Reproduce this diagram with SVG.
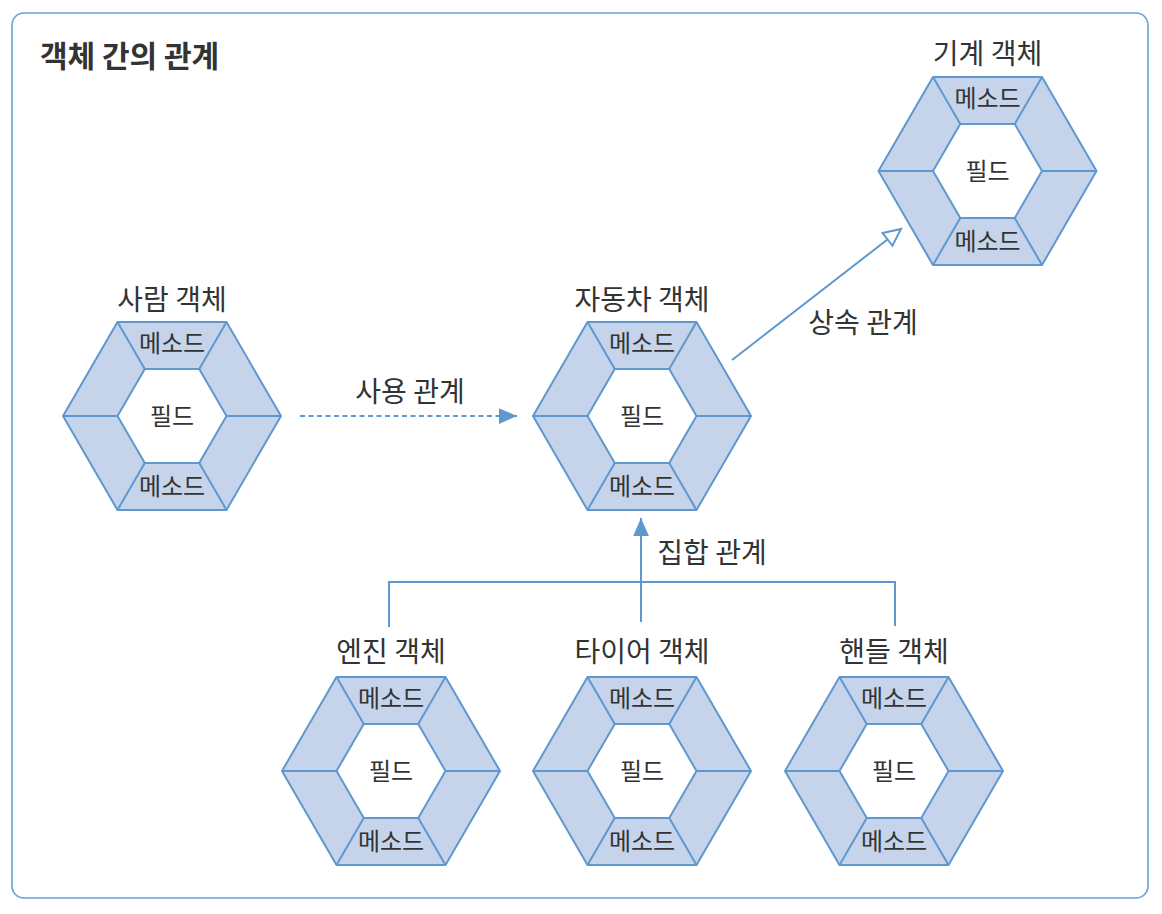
<svg xmlns="http://www.w3.org/2000/svg" xmlns:xlink="http://www.w3.org/1999/xlink" width="1162" height="914" viewBox="0 0 1162 914">
<style>
  .frame { fill: #ffffff; stroke: #6a9fd3; stroke-width: 1.6; }
  .outer { fill: #c5d4ea; stroke: #5e98cf; stroke-width: 2; stroke-linejoin: round; }
  .inner { fill: #ffffff; stroke: #5e98cf; stroke-width: 2; stroke-linejoin: round; }
  .spoke { stroke: #5e98cf; stroke-width: 2; fill: none; }
  .t { font-family: "Noto Sans CJK KR", "Noto Sans", sans-serif; fill: #333333; text-anchor: middle; }
  .lbl { font-size: 28px; }
  .part { font-size: 24px; }
  .title { font-size: 30px; font-weight: bold; text-anchor: start; }
  .conn { stroke: #5e98cf; stroke-width: 2; fill: none; }
</style>
<defs>
  <g id="hex">
    <polygon class="outer" points="-109,0 -54.5,-94 54.5,-94 109,0 54.5,94 -54.5,94"/>
    <polygon class="inner" points="-54.5,0 -27.25,-47 27.25,-47 54.5,0 27.25,47 -27.25,47"/>
    <path class="spoke" d="M-109,0 L-54.5,0 M-54.5,-94 L-27.25,-47 M54.5,-94 L27.25,-47 M109,0 L54.5,0 M54.5,94 L27.25,47 M-54.5,94 L-27.25,47"/>
  </g>
  <marker id="arrowFilled" markerUnits="userSpaceOnUse" markerWidth="18" markerHeight="16" viewBox="0 0 16 14" refX="16" refY="7" orient="auto">
    <path d="M0,0 L16,7 L0,14 Z" fill="#5e98cf"/>
  </marker>
  <marker id="arrowHollow" markerUnits="userSpaceOnUse" markerWidth="22" markerHeight="20" viewBox="-2 -2 22 20" refX="17" refY="8" orient="auto">
    <path d="M0,0 L17,8 L0,16 Z" fill="#ffffff" stroke="#5e98cf" stroke-width="2" stroke-linejoin="miter"/>
  </marker>
</defs>

<rect class="frame" x="12" y="13" width="1136" height="885" rx="12" ry="12"/>
<text class="t title" x="40" y="67">객체 간의 관계</text>

<g id="connectors">
  <line class="conn" x1="300" y1="416" x2="517" y2="416" stroke-dasharray="5 3.5" marker-end="url(#arrowFilled)"/>
  <line class="conn" x1="732" y1="360" x2="901" y2="229" marker-end="url(#arrowHollow)"/>
  <polyline class="conn" points="389,627 389,582 895,582 895,626"/>
  <line class="conn" x1="641" y1="622" x2="641" y2="518" marker-end="url(#arrowFilled)"/>
  <text class="t lbl" x="410" y="402">사용 관계</text>
  <text class="t lbl" x="863" y="333">상속 관계</text>
  <text class="t lbl" x="712" y="563">집합 관계</text>
</g>

<g id="node-person" transform="translate(172,416)">
  <use xlink:href="#hex" href="#hex"/>
  <text class="t lbl" x="0" y="-106">사람 객체</text>
  <text class="t part" x="0" y="-64.5">메소드</text>
  <text class="t part" x="0" y="9">필드</text>
  <text class="t part" x="0" y="79">메소드</text>
</g>

<g id="node-car" transform="translate(642,416)">
  <use xlink:href="#hex" href="#hex"/>
  <text class="t lbl" x="0" y="-106">자동차 객체</text>
  <text class="t part" x="0" y="-64.5">메소드</text>
  <text class="t part" x="0" y="9">필드</text>
  <text class="t part" x="0" y="79">메소드</text>
</g>

<g id="node-machine" transform="translate(987.5,171)">
  <use xlink:href="#hex" href="#hex"/>
  <text class="t lbl" x="0" y="-107">기계 객체</text>
  <text class="t part" x="0" y="-64.5">메소드</text>
  <text class="t part" x="0" y="9">필드</text>
  <text class="t part" x="0" y="79">메소드</text>
</g>

<g id="node-engine" transform="translate(391,771)">
  <use xlink:href="#hex" href="#hex"/>
  <text class="t lbl" x="0" y="-109">엔진 객체</text>
  <text class="t part" x="0" y="-64.5">메소드</text>
  <text class="t part" x="0" y="9">필드</text>
  <text class="t part" x="0" y="79">메소드</text>
</g>

<g id="node-tire" transform="translate(642,771)">
  <use xlink:href="#hex" href="#hex"/>
  <text class="t lbl" x="0" y="-109">타이어 객체</text>
  <text class="t part" x="0" y="-64.5">메소드</text>
  <text class="t part" x="0" y="9">필드</text>
  <text class="t part" x="0" y="79">메소드</text>
</g>

<g id="node-handle" transform="translate(894,771)">
  <use xlink:href="#hex" href="#hex"/>
  <text class="t lbl" x="0" y="-109">핸들 객체</text>
  <text class="t part" x="0" y="-64.5">메소드</text>
  <text class="t part" x="0" y="9">필드</text>
  <text class="t part" x="0" y="79">메소드</text>
</g>
</svg>
